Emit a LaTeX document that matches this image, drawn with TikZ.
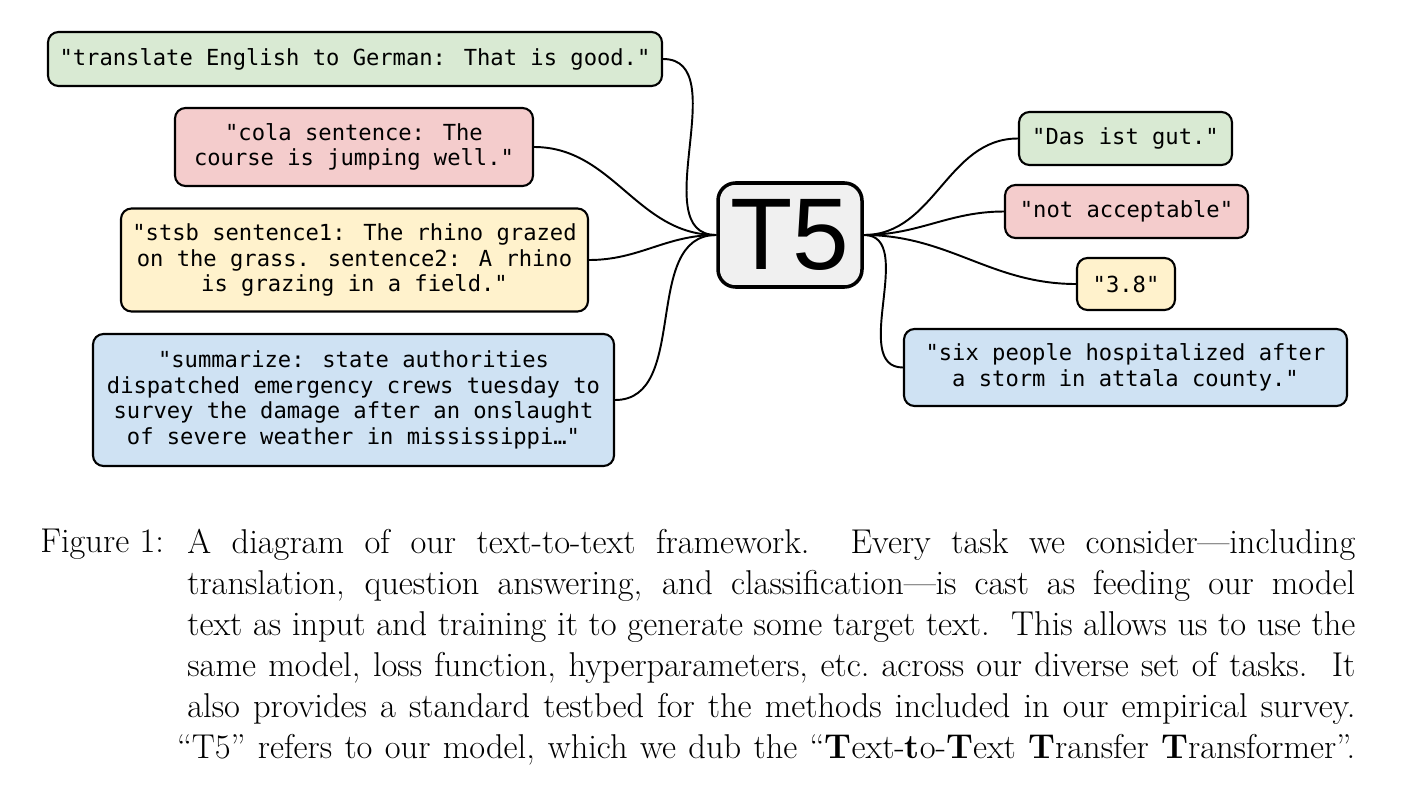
\documentclass[tikz,border=0pt]{standalone}
\usepackage{fontspec}
\newfontfamily\monof{DejaVu Sans Mono}
\newfontfamily\tfont{Liberation Sans}
\begin{document}
\begin{tikzpicture}[x=0.02cm,y=-0.02cm,
  box/.style={draw,line width=1.2pt,rounded corners=6pt,font=\monof\fontsize{12.6}{14.6}\selectfont,align=center,inner sep=0pt},
  conn/.style={line width=1.1pt}]
\useasboundingbox (0,0) rectangle (1406,788);
\definecolor{cg}{HTML}{D9EAD3}\definecolor{cr}{HTML}{F4CCCC}
\definecolor{cy}{HTML}{FFF2CC}\definecolor{cb}{HTML}{CFE2F3}
\node[box,fill=cg,minimum width=614*0.02cm,minimum height=54*0.02cm] (l1) at (355,59) {"translate English to German: That is good."};
\node[box,fill=cr,minimum width=358*0.02cm,minimum height=78*0.02cm] (l2) at (354,147) {"cola sentence: The\\course is jumping well."};
\node[box,fill=cy,minimum width=467*0.02cm,minimum height=103*0.02cm] (l3) at (354.5,260) {"stsb sentence1: The rhino grazed\\on the grass. sentence2: A rhino\\is grazing in a field."};
\node[box,fill=cb,minimum width=521*0.02cm,minimum height=132*0.02cm] (l4) at (353.5,400) {"summarize: state authorities\\dispatched emergency crews tuesday to\\survey the damage after an onslaught\\of severe weather in mississippi…"};
\node[draw,line width=2pt,rounded corners=10pt,fill=black!6,minimum width=144*0.02cm,minimum height=104*0.02cm,inner sep=0pt,font=\tfont\fontsize{58}{58}\selectfont] (t5) at (790,235) {T5};
\node[box,fill=cg,minimum width=213*0.02cm,minimum height=53*0.02cm] (r1) at (1125.5,138.5) {"Das ist gut."};
\node[box,fill=cr,minimum width=243*0.02cm,minimum height=53*0.02cm] (r2) at (1126.5,211.5) {"not acceptable"};
\node[box,fill=cy,minimum width=98*0.02cm,minimum height=52*0.02cm] (r3) at (1126,284) {"3.8"};
\node[box,fill=cb,minimum width=443*0.02cm,minimum height=77*0.02cm] (r4) at (1125.5,367.5) {"six people hospitalized after\\a storm in attala county."};
\foreach \n in {l1,l2,l3,l4} \draw[conn] (\n.east) to[out=0,in=180] (t5.west);
\foreach \n in {r1,r2,r3,r4} \draw[conn] (t5.east) to[out=0,in=180] (\n.west);
\node[anchor=north west,inner sep=0pt,font=\fontsize{19.6}{23.3}\selectfont] (fl) at (40,529) {Figure 1:};
\node[anchor=north west,inner sep=0pt,text width=1168*0.02cm,align=justify,font=\fontsize{19.6}{23.3}\selectfont] (cap) at (187,529) {\parfillskip=0pt A diagram of our text-to-text framework.\ \ Every task we consider---including\linebreak translation, question answering, and classification---is cast as feeding our model\linebreak text as input and training it to generate some target text.\ \ This allows us to use the\linebreak same model, loss function, hyperparameters, etc.\ across our diverse set of tasks.\ \ It\linebreak also provides a standard testbed for the methods included in our empirical survey.\linebreak\hspace*{-0.3em}``T5'' refers to our model, which we dub the ``\textbf{T}ext-\textbf{t}o-\textbf{T}ext \textbf{T}ransfer \textbf{T}ransformer''.\par};
\end{tikzpicture}
\end{document}
